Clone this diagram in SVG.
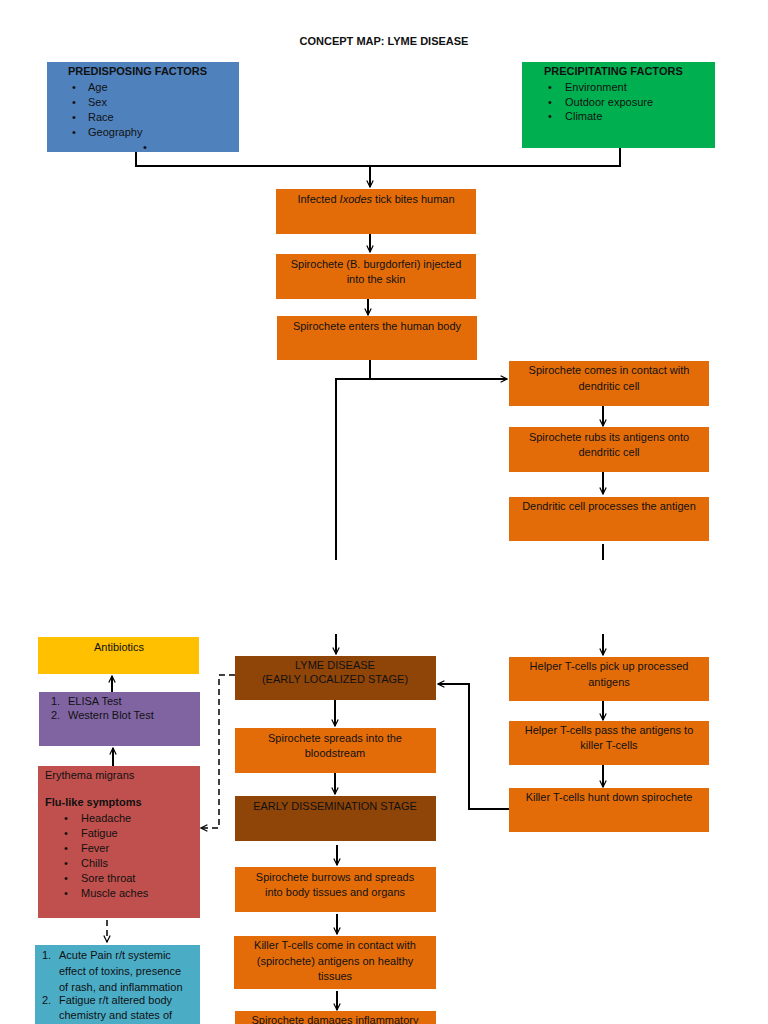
<svg xmlns="http://www.w3.org/2000/svg" width="768" height="1024" viewBox="0 0 768 1024">
<style>
text{font-family:"Liberation Sans",Arial,sans-serif;font-size:11px;fill:#111}
.c{text-anchor:middle}
.b{font-weight:bold}
.ln{fill:none;stroke:#000;stroke-width:2}
.ds{fill:none;stroke:#000;stroke-width:1.5;stroke-dasharray:6,4}
.or{fill:#e36c09}.br{fill:#8f4408}
</style>
<defs>
<marker id="a" viewBox="0 0 10 10" refX="9" refY="5" markerWidth="8" markerHeight="8" orient="auto" markerUnits="userSpaceOnUse">
<path d="M1,1 L9,5 L1,9" fill="none" stroke="#000" stroke-width="1.5"/>
</marker>
</defs>
<rect width="768" height="1024" fill="#fff"/>
<text x="384" y="45" class="c b">CONCEPT MAP: LYME DISEASE</text>

<g id="connectors">
<path class="ln" d="M136,152 V166 H620 V148"/>
<path class="ln" d="M370,166 V187" marker-end="url(#a)"/>
<path class="ln" d="M370,234 V252" marker-end="url(#a)"/>
<path class="ln" d="M368,299 V315" marker-end="url(#a)"/>
<path class="ln" d="M370,360 V379"/>
<path class="ln" d="M336,560 V379 H507" marker-end="url(#a)"/>
<path class="ln" d="M603,406 V426" marker-end="url(#a)"/>
<path class="ln" d="M603,472 V494" marker-end="url(#a)"/>
<path class="ln" d="M603,544 V560"/>
<path class="ln" d="M336,634 V654" marker-end="url(#a)"/>
<path class="ln" d="M603,634 V655" marker-end="url(#a)"/>
<path class="ln" d="M603,701 V720" marker-end="url(#a)"/>
<path class="ln" d="M603,765 V787" marker-end="url(#a)"/>
<path class="ln" d="M335,700 V726" marker-end="url(#a)"/>
<path class="ln" d="M335,773 V794" marker-end="url(#a)"/>
<path class="ln" d="M337,845 V865" marker-end="url(#a)"/>
<path class="ln" d="M337,914 V934" marker-end="url(#a)"/>
<path class="ln" d="M337,991 V1010" marker-end="url(#a)"/>
<path class="ln" d="M509,809 H469 V684 H438" marker-end="url(#a)"/>
<path class="ds" d="M235,675 H219 V828 H201" marker-end="url(#a)"/>
<path class="ln" d="M112,692 V676" marker-end="url(#a)"/>
<path class="ln" d="M113,766 V748" marker-end="url(#a)"/>
<path class="ds" d="M107,920 V942" marker-end="url(#a)"/>
</g>

<g id="predisposing">
<rect x="47" y="62" width="192" height="90" fill="#4f81bd"/>
<text x="68" y="75" class="b">PREDISPOSING FACTORS</text>
<text x="72" y="91">•</text><text x="88" y="91">Age</text>
<text x="72" y="106">•</text><text x="88" y="106">Sex</text>
<text x="72" y="121">•</text><text x="88" y="121">Race</text>
<text x="72" y="136">•</text><text x="88" y="136">Geography</text>
<text x="143" y="151">•</text>
</g>
<g id="precipitating">
<rect x="522" y="62" width="193" height="86" fill="#00b050"/>
<text x="544" y="75" class="b">PRECIPITATING FACTORS</text>
<text x="548" y="91">•</text><text x="565" y="91">Environment</text>
<text x="548" y="106">•</text><text x="565" y="106">Outdoor exposure</text>
<text x="548" y="120">•</text><text x="565" y="120">Climate</text>
</g>
<g id="n1"><rect x="276" y="189" width="200" height="45" class="or"/>
<text x="376" y="203" class="c">Infected <tspan font-style="italic">Ixodes</tspan> tick bites human</text></g>
<g id="n2"><rect x="276" y="254" width="200" height="45" class="or"/>
<text x="376" y="268" class="c">Spirochete (B. burgdorferi) injected</text><text x="376" y="283" class="c">into the skin</text></g>
<g id="n3"><rect x="277" y="316" width="200" height="44" class="or"/>
<text x="377" y="330" class="c">Spirochete enters the human body</text></g>
<g id="r1"><rect x="509" y="361" width="200" height="45" class="or"/>
<text x="609" y="374" class="c">Spirochete comes in contact with</text><text x="609" y="390" class="c">dendritic cell</text></g>
<g id="r2"><rect x="509" y="427" width="200" height="45" class="or"/>
<text x="609" y="441" class="c">Spirochete rubs its antigens onto</text><text x="609" y="456" class="c">dendritic cell</text></g>
<g id="r3"><rect x="509" y="497" width="200" height="44" class="or"/>
<text x="609" y="510" class="c">Dendritic cell processes the antigen</text></g>
<g id="r4"><rect x="509" y="657" width="200" height="44" class="or"/>
<text x="609" y="670" class="c">Helper T-cells pick up processed</text><text x="609" y="686" class="c">antigens</text></g>
<g id="r5"><rect x="509" y="721" width="200" height="44" class="or"/>
<text x="609" y="734" class="c">Helper T-cells pass the antigens to</text><text x="609" y="749" class="c">killer T-cells</text></g>
<g id="r6"><rect x="509" y="788" width="200" height="44" class="or"/>
<text x="609" y="801" class="c">Killer T-cells hunt down spirochete</text></g>
<g id="m1"><rect x="235" y="656" width="201" height="44" class="br"/>
<text x="335" y="669" class="c">LYME DISEASE</text><text x="335" y="683" class="c">(EARLY LOCALIZED STAGE)</text></g>
<g id="m2"><rect x="235" y="728" width="201" height="45" class="or"/>
<text x="335" y="742" class="c">Spirochete spreads into the</text><text x="335" y="757" class="c">bloodstream</text></g>
<g id="m3"><rect x="235" y="796" width="201" height="45" class="br"/>
<text x="335" y="810" class="c">EARLY DISSEMINATION STAGE</text></g>
<g id="m4"><rect x="235" y="867" width="201" height="45" class="or"/>
<text x="335" y="881" class="c">Spirochete burrows and spreads</text><text x="335" y="896" class="c">into body tissues and organs</text></g>
<g id="m5"><rect x="234" y="936" width="202" height="53" class="or"/>
<text x="335" y="949" class="c">Killer T-cells come in contact with</text><text x="335" y="965" class="c">(spirochete) antigens on healthy</text><text x="335" y="980" class="c">tissues</text></g>
<g id="m6"><rect x="235" y="1011" width="201" height="20" class="or"/>
<text x="335" y="1024" class="c">Spirochete damages inflammatory</text></g>
<g id="antibiotics"><rect x="38" y="637" width="161" height="37" fill="#ffc000"/>
<text x="119" y="651" class="c">Antibiotics</text></g>
<g id="tests"><rect x="39" y="692" width="161" height="54" fill="#8064a2"/>
<text x="51" y="705">1.</text><text x="68" y="705">ELISA Test</text>
<text x="51" y="719">2.</text><text x="68" y="719">Western Blot Test</text></g>
<g id="symptoms"><rect x="38" y="766" width="162" height="152" fill="#c0504d"/>
<text x="45" y="779">Erythema migrans</text>
<text x="45" y="806" class="b">Flu-like symptoms</text>
<text x="64" y="822">•</text><text x="81" y="822">Headache</text>
<text x="64" y="837">•</text><text x="81" y="837">Fatigue</text>
<text x="64" y="852">•</text><text x="81" y="852">Fever</text>
<text x="64" y="867">•</text><text x="81" y="867">Chills</text>
<text x="64" y="882">•</text><text x="81" y="882">Sore throat</text>
<text x="64" y="897">•</text><text x="81" y="897">Muscle aches</text></g>
<g id="nursing"><rect x="35" y="945" width="165" height="85" fill="#4bacc6"/>
<text x="42" y="959">1.</text><text x="59" y="959">Acute Pain r/t systemic</text>
<text x="59" y="975">effect of toxins, presence</text>
<text x="59" y="991">of rash, and inflammation</text>
<text x="42" y="1004">2.</text><text x="59" y="1004">Fatigue r/t altered body</text>
<text x="59" y="1019">chemistry and states of</text></g>
</svg>
